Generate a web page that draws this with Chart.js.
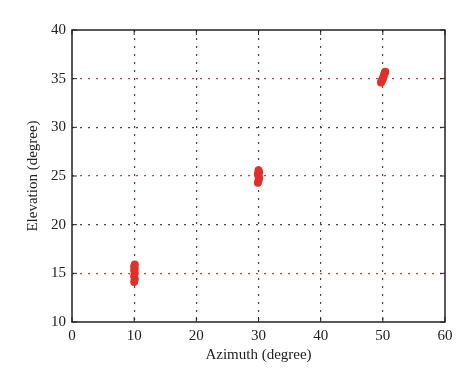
<!DOCTYPE html>
<html>
<head>
<meta charset="utf-8">
<script src="https://cdn.jsdelivr.net/npm/chart.js@4.4.0/dist/chart.umd.min.js"></script>
<style>
  html, body { margin: 0; padding: 0; background: #fff; }
  #wrap { width: 474px; height: 383px; }
</style>
</head>
<body>
<div id="wrap"><canvas id="chart"></canvas></div>
<script>
// data
const xTicks = [0, 10, 20, 30, 40, 50, 60];
const yTicks = [10, 15, 20, 25, 30, 35, 40];
const redLines = [15, 25, 35];

const azimuth = [
  10.0, 10.1, 10.0, 10.1, 10.0, 10.1, 10.0, 10.1,
  29.9, 30.0, 30.1, 30.0, 29.9, 30.1, 30.0,
  49.7, 49.8, 49.9, 50.0, 50.1, 50.2, 50.3, 50.4
];
const elevation = [
  14.1, 14.4, 14.7, 15.0, 15.3, 15.5, 15.7, 15.9,
  24.3, 24.5, 24.8, 25.0, 25.2, 25.4, 25.6,
  34.6, 34.7, 34.9, 35.0, 35.2, 35.4, 35.6, 35.7
];

const points = azimuth.map((x, i) => ({ x: x, y: elevation[i] }));

const serif = "'Liberation Serif', 'DejaVu Serif', serif";

// box around the plot and inward tick marks
const frame = {
  id: 'frame',
  afterDraw(chart) {
    const ctx = chart.ctx;
    const a = chart.chartArea;
    const xs = chart.scales.x, ys = chart.scales.y;
    ctx.save();
    ctx.strokeStyle = '#222';
    ctx.lineWidth = 1.5;
    ctx.strokeRect(a.left, a.top, a.right - a.left, a.bottom - a.top);
    ctx.lineWidth = 1;
    xTicks.forEach(v => {
      const px = xs.getPixelForValue(v);
      ctx.beginPath();
      ctx.moveTo(px, a.bottom); ctx.lineTo(px, a.bottom - 5);
      ctx.moveTo(px, a.top); ctx.lineTo(px, a.top + 5);
      ctx.stroke();
    });
    yTicks.forEach(v => {
      const py = ys.getPixelForValue(v);
      ctx.beginPath();
      ctx.moveTo(a.left, py); ctx.lineTo(a.left + 5, py);
      ctx.moveTo(a.right, py); ctx.lineTo(a.right - 5, py);
      ctx.stroke();
    });
    ctx.restore();
  }
};

new Chart(document.getElementById('chart'), {
  type: 'scatter',
  data: {
    datasets: [{
      data: points,
      backgroundColor: '#e0302a',
      borderColor: '#e0302a',
      pointRadius: 4,
      borderWidth: 0
    }]
  },
  options: {
    responsive: true,
    maintainAspectRatio: false,
    animation: false,
    layout: { padding: { top: 30, right: 29, left: 0, bottom: 0 } },
    plugins: { legend: { display: false }, tooltip: { enabled: false } },
    scales: {
      x: {
        type: 'linear',
        min: 0, max: 60,
        afterBuildTicks: s => { s.ticks = xTicks.map(v => ({ value: v })); },
        afterFit: s => { s.height = 61; },
        border: { display: false, dash: [2, 6] },
        grid: {
          color: ctx => (ctx.tick && (ctx.tick.value === 0 || ctx.tick.value === 60)) ? 'rgba(0,0,0,0)' : '#444',
          lineWidth: 1.2,
          drawTicks: false
        },
        ticks: { color: '#222', font: { family: serif, size: 15 }, padding: 5 },
        title: {
          display: true, text: 'Azimuth (degree)', color: '#222',
          font: { family: serif, size: 15 }, padding: { top: 0, bottom: 19 }
        }
      },
      y: {
        type: 'linear',
        min: 10, max: 40,
        afterBuildTicks: s => { s.ticks = yTicks.map(v => ({ value: v })); },
        afterFit: s => { s.width = 72; },
        border: { display: false, dash: [2, 6] },
        grid: {
          color: ctx => {
            if (!ctx.tick) return '#444';
            const v = ctx.tick.value;
            if (v === 10 || v === 40) return 'rgba(0,0,0,0)';
            return redLines.includes(v) ? '#b84a45' : '#444';
          },
          lineWidth: 1.2,
          drawTicks: false
        },
        ticks: { color: '#222', font: { family: serif, size: 15 }, padding: 6 },
        title: {
          display: true, text: 'Elevation (degree)', color: '#222',
          font: { family: serif, size: 15 }, padding: { top: 24, bottom: 0 }
        }
      }
    }
  },
  plugins: [frame]
});
</script>
</body>
</html>
